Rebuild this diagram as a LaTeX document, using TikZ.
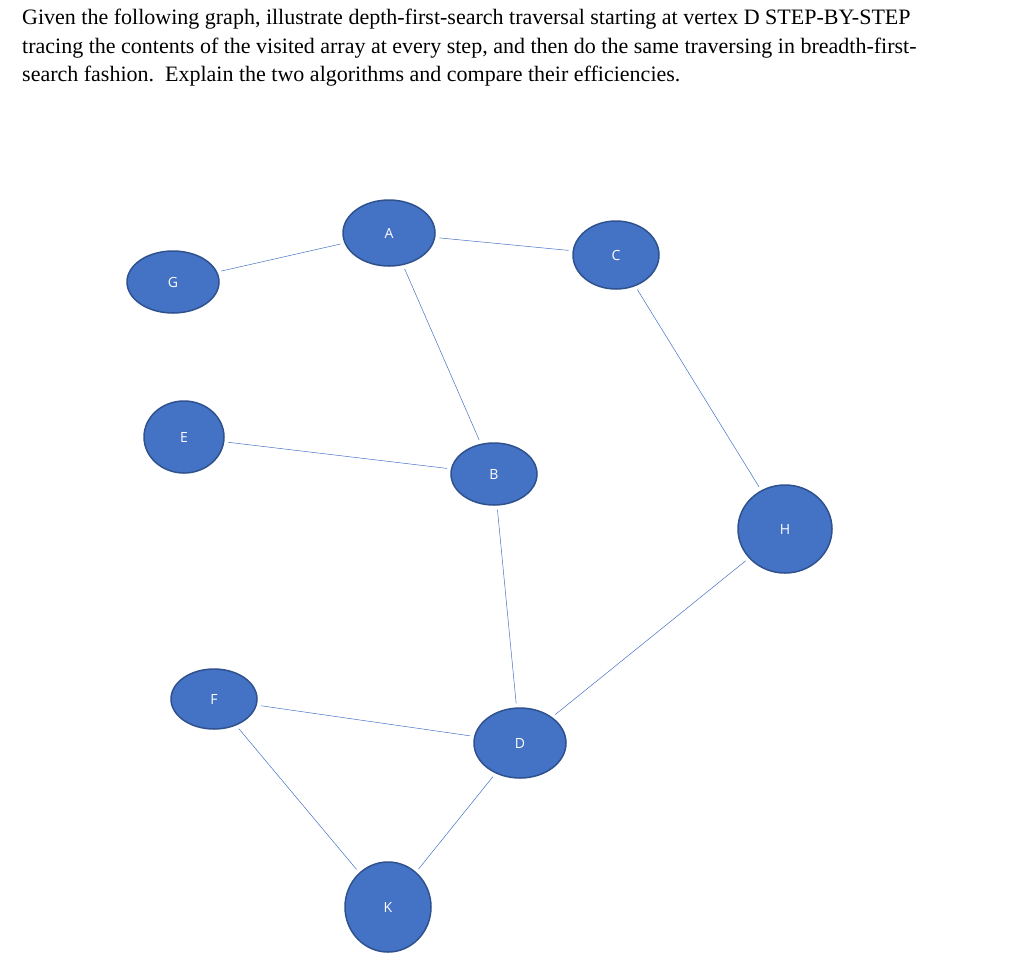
\documentclass[tikz,border=0pt]{standalone}
\usepackage{fontspec}
\setmainfont{Liberation Serif}
\newfontfamily\nodefont{Open Sans}
\usetikzlibrary{shapes.geometric}
\definecolor{nfill}{HTML}{4472C4}
\definecolor{nline}{HTML}{2F528F}
\tikzset{
  vert/.style={ellipse,fill=nfill,draw=nline,line width=1.5pt,text=white,font=\nodefont\fontsize{14}{14}\selectfont,inner sep=0pt},
  edge/.style={draw=nfill,line width=0.5pt,shorten >=4pt,shorten <=4pt}
}
\begin{document}
\begin{tikzpicture}[x=1pt,y=-1pt]
\useasboundingbox (0,0) rectangle (1024,978);
\node[anchor=north west,align=left,inner sep=0pt,font=\fontsize{22}{28.5}\selectfont] (title) at (22,9)
{Given the following graph, illustrate depth-first-search traversal starting at vertex D STEP-BY-STEP\\
tracing the contents of the visited array at every step, and then do the same traversing in breadth-first-\\
search fashion.\ \ Explain the two algorithms and compare their efficiencies.};
\node[vert,minimum width=92pt,minimum height=66pt] (A) at (389,233) {A};
\node[vert,minimum width=86pt,minimum height=68pt] (C) at (616,255) {C};
\node[vert,minimum width=92pt,minimum height=62pt] (G) at (173,282) {G};
\node[vert,minimum width=80pt,minimum height=72pt] (E) at (184,437) {E};
\node[vert,minimum width=86pt,minimum height=62pt] (B) at (494,474) {B};
\node[vert,minimum width=94pt,minimum height=88pt] (H) at (785,529) {H};
\node[vert,minimum width=86pt,minimum height=60pt] (F) at (214,699) {F};
\node[vert,minimum width=92pt,minimum height=70pt] (D) at (520,743) {D};
\node[vert,minimum width=86pt,minimum height=90pt] (K) at (388,907) {K};
\foreach \a/\b in {G/A,A/C,A/B,C/H,E/B,B/D,H/D,F/D,F/K,D/K}
  \draw[edge] (\a) -- (\b);
\end{tikzpicture}
\end{document}
